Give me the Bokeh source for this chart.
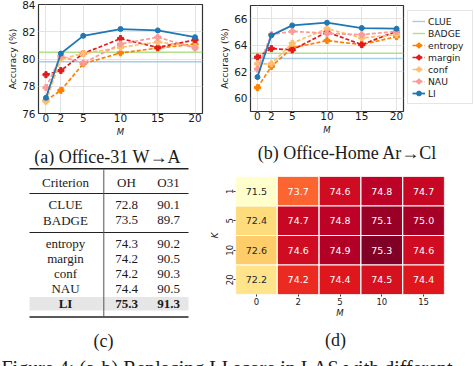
import numpy as np
from bokeh.plotting import figure
from bokeh.layouts import column, row
from bokeh.models import (Range1d, FixedTicker, Legend, LegendItem, LinearColorMapper,
                          ColumnDataSource, FactorRange)
from bokeh.core.properties import value
from bokeh.embed import file_html
from bokeh.resources import INLINE
from bokeh.palettes import YlOrRd9

# ------------------------------------------------------------------ data
M_vals = [0, 2, 5, 10, 15, 20]

# (a) Office-31 W->A
a_clue = 79.8
a_badge = 80.5
a_entropy = [76.95, 77.7, 79.65, 80.45, 80.8, 81.1]
a_margin = [78.85, 79.15, 80.4, 81.5, 80.85, 81.4]
a_conf = [76.9, 80.0, 80.4, 80.85, 81.25, 80.9]
a_nau = [77.9, 80.2, 79.7, 81.1, 81.6, 80.8]
a_li = [77.15, 80.4, 81.7, 82.2, 82.1, 81.6]
a_yticks = [76, 78, 80, 82, 84]

# (b) Office-Home Ar->Cl
b_clue = 63.0
b_badge = 63.4
b_entropy = [60.8, 62.4, 63.8, 64.35, 64.05, 64.65]
b_margin = [63.1, 63.75, 63.65, 65.0, 64.05, 65.05]
b_conf = [62.6, 62.6, 64.15, 65.25, 64.55, 64.8]
b_nau = [62.2, 64.8, 65.05, 64.9, 64.8, 65.05]
b_li = [61.6, 64.75, 65.5, 65.7, 65.3, 65.25]
b_yticks = [60, 62, 64, 66]

legend_names = ["CLUE", "BADGE", "entropy", "margin", "conf", "NAU", "LI"]

# (c) table
criteria = ["CLUE", "BADGE", "entropy", "margin", "conf", "NAU", "LI"]
oh_acc = [72.8, 73.5, 74.3, 74.2, 74.2, 74.4, 75.3]
o31_acc = [90.1, 89.7, 90.2, 90.5, 90.3, 90.5, 91.3]

# (d) heatmap
hm_M = ["0", "2", "5", "10", "15"]
hm_K = ["1", "5", "10", "20"]
hm_acc = [
    [71.5, 73.7, 74.6, 74.8, 74.7],
    [72.4, 74.7, 74.8, 75.1, 75.0],
    [72.6, 74.6, 74.9, 75.3, 74.6],
    [72.2, 74.2, 74.4, 74.5, 74.4],
]

# ------------------------------------------------------------------ style
COLORS = {"CLUE": "#a6cee3", "BADGE": "#b2df8a", "entropy": "#ff7f00", "margin": "#e31a1c",
          "conf": "#fdbf6f", "NAU": "#fb9a99", "LI": "#1f78b4"}
SANS = "DejaVu Sans"
SERIF = "Liberation Serif"
TXT = "#1a1a1a"


def base_fig(width, height, xr, yr, bl=0, br=0, bt=0, bb=0):
    return figure(width=width, height=height, x_range=xr, y_range=yr,
                  output_backend="svg", toolbar_location=None, frame_align=False,
                  min_border_left=bl, min_border_right=br, min_border_top=bt, min_border_bottom=bb)


def blank(width, height, xr, yr, bt=0):
    p = base_fig(width, height, Range1d(*xr), Range1d(*yr), bt=bt)
    p.axis.visible = False
    p.grid.visible = False
    p.outline_line_color = None
    return p


def line_fig(width, height, yr, yticks, bl, br, bt, bb):
    p = base_fig(width, height, Range1d(-1, 21), Range1d(*yr), bl, br, bt, bb)
    p.xaxis.ticker = FixedTicker(ticks=M_vals)
    p.yaxis.ticker = FixedTicker(ticks=yticks)
    for ax in (p.xaxis[0], p.yaxis[0]):
        ax.axis_line_color = None
        ax.major_tick_line_color = None
        ax.minor_tick_line_color = None
        ax.major_tick_out = 0
        ax.major_tick_in = 0
        ax.major_label_text_font = SANS
        ax.major_label_text_font_size = "10.5px"
        ax.major_label_text_color = TXT
        ax.axis_label_text_font = SANS
        ax.axis_label_text_color = TXT
        ax.axis_label_text_font_size = "9.2px"
    p.xaxis.axis_label = "M"
    p.xaxis.axis_label_text_font_style = "italic"
    p.xaxis.axis_label_text_font_size = "8.5px"
    p.xaxis.major_label_standoff = 0
    p.xaxis.axis_label_standoff = 2
    p.yaxis.axis_label = "Accuracy (%)"
    p.yaxis.axis_label_text_font_style = "normal"
    p.yaxis.major_label_standoff = 3
    p.yaxis.axis_label_standoff = 1
    p.grid.grid_line_color = "#e3e3e3"
    p.grid.grid_line_width = 1
    p.outline_line_color = "#333333"
    p.outline_line_width = 1.2
    return p


def draw_series(p, clue, badge, ent, mar, conf, nau, li):
    x0, x1 = p.x_range.start, p.x_range.end
    p.line([x0, x1], [clue, clue], line_color=COLORS["CLUE"], line_width=1.4)
    p.line([x0, x1], [badge, badge], line_color=COLORS["BADGE"], line_width=1.4)
    for name, ys in (("entropy", ent), ("margin", mar), ("conf", conf), ("NAU", nau)):
        p.line(M_vals, ys, line_color=COLORS[name], line_width=1.7, line_dash="4 2")
        p.scatter(M_vals, ys, marker="plus", size=6, color=COLORS[name])
    p.line(M_vals, li, line_color=COLORS["LI"], line_width=1.8)
    p.scatter(M_vals, li, marker="circle", size=5, color=COLORS["LI"])


# ------------------------------------------------------------------ (a)
pa = line_fig(212, 140, (76, 84), a_yticks, 38, 10, 4, 27)
draw_series(pa, a_clue, a_badge, a_entropy, a_margin, a_conf, a_nau, a_li)

# ------------------------------------------------------------------ (b)
pb = line_fig(193, 140, (59, 67), b_yticks, 38, 2, 5, 29)
draw_series(pb, b_clue, b_badge, b_entropy, b_margin, b_conf, b_nau, b_li)

# ------------------------------------------------------------------ legend of (b)
# proxy renderers (kept outside the visible range) that only provide legend swatches
pl = blank(69, 140, (0, 1), (0, 1), bt=8)
px, py = [5, 6], [5, 6]
items = []
for name in legend_names:
    col = COLORS[name]
    if name in ("CLUE", "BADGE"):
        rs = [pl.line(px, py, line_color=col, line_width=1.4)]
    elif name == "LI":
        rs = [pl.line(px, py, line_color=col, line_width=1.8),
              pl.scatter(px, py, marker="circle", size=5, color=col)]
    else:
        rs = [pl.line(px, py, line_color=col, line_width=1.7, line_dash="4 2"),
              pl.scatter(px, py, marker="plus", size=6, color=col)]
    items.append(LegendItem(label=name, renderers=rs))
legend = Legend(items=items, location="top_left")
legend.label_text_font = SANS
legend.label_text_font_size = "9.2px"
legend.label_text_color = TXT
legend.glyph_height = 12
legend.label_height = 12
legend.glyph_width = 13
legend.label_width = 40
legend.spacing = 0
legend.padding = 4
legend.margin = 2
legend.label_standoff = 3
legend.border_line_color = "#cccccc"
legend.border_line_width = 1
pl.add_layout(legend)

# ------------------------------------------------------------------ captions (a)(b)
cap_ab = blank(474, 26, (0, 474), (166, 140))
cap_ab.text(x=[107, 347], y=[156, 152.5],
            text=["(a) Office-31 W\u2192A", "(b) Office-Home Ar\u2192Cl"],
            text_align="center", text_baseline="middle", text_color=TXT,
            text_font=value(SERIF), text_font_size="18px")

# ------------------------------------------------------------------ (c) table
pc = blank(200, 154, (0, 200), (320, 166))
x_lo, x_hi, x_vline = 29, 188, 103.3
col_x = [65, 126, 168]
header_y = 182
row_y = [204, 219.5, 243, 258, 273, 288, 303]
FS = "13px"
pc.quad(left=[x_lo], right=[x_hi], bottom=[310], top=[296.5], fill_color="#e6e6e6", line_color=None)
pc.segment(x0=[x_lo] * 4, x1=[x_hi] * 4, y0=[168.3, 193, 232, 316.5],
           y1=[168.3, 193, 232, 316.5], line_color="#222222", line_width=[1.6, 1.0, 1.0, 1.6])
pc.segment(x0=[x_vline], x1=[x_vline], y0=[169], y1=[316], line_color="#555555", line_width=1.0)
pc.text(x=col_x, y=[header_y] * 3, text=["Criterion", "OH", "O31"],
        text_align="center", text_baseline="middle", text_color=TXT,
        text_font=value(SERIF), text_font_size=FS)
n = len(criteria) - 1
src_c = ColumnDataSource(dict(
    y=row_y[:n], crit=criteria[:n],
    oh=["%.1f" % v for v in oh_acc[:n]], o31=["%.1f" % v for v in o31_acc[:n]]))
for key, cx in zip(["crit", "oh", "o31"], col_x):
    pc.text(x=cx, y="y", text=key, source=src_c, text_align="center", text_baseline="middle",
            text_color=TXT, text_font=value(SERIF), text_font_size=FS)
pc.text(x=col_x, y=[row_y[n]] * 3, text=[criteria[n], "%.1f" % oh_acc[n], "%.1f" % o31_acc[n]],
        text_align="center", text_baseline="middle", text_color=TXT,
        text_font=value(SERIF), text_font_size=FS, text_font_style="bold")

# ------------------------------------------------------------------ (d) heatmap
base = list(YlOrRd9)[::-1]
rgb = np.array([[int(c[i:i + 2], 16) for i in (1, 3, 5)] for c in base], dtype=float)
pal = []
for tv in np.linspace(0, len(base) - 1, 256):
    i = min(int(tv), len(base) - 2)
    f = tv - i
    cc = rgb[i] * (1 - f) + rgb[i + 1] * f
    pal.append("#%02x%02x%02x" % tuple(int(round(v)) for v in cc))
vals = np.array(hm_acc)
mapper = LinearColorMapper(palette=pal, low=float(vals.min()), high=float(vals.max()))
xs, ys, vs, labs, tcs = [], [], [], [], []
for i, k in enumerate(hm_K):
    for j, m in enumerate(hm_M):
        v = hm_acc[i][j]
        xs.append(m); ys.append(k); vs.append(v); labs.append("%.1f" % v)
        tcs.append("#262626" if v < 73.0 else "#ffffff")
src_d = ColumnDataSource(dict(m=xs, k=ys, v=vs, lab=labs, tc=tcs))
pd_ = base_fig(274, 154, FactorRange(factors=hm_M, range_padding=0),
               FactorRange(factors=hm_K[::-1], range_padding=0), 35, 30, 10, 26)
pd_.rect(x="m", y="k", width=1, height=1, source=src_d,
         fill_color={"field": "v", "transform": mapper}, line_color="white", line_width=1.2)
pd_.text(x="m", y="k", text="lab", source=src_d, text_color="tc", text_align="center",
         text_baseline="middle", text_font=value(SANS), text_font_size="9.5px")
pd_.grid.visible = False
pd_.outline_line_color = None
for ax in (pd_.xaxis[0], pd_.yaxis[0]):
    ax.axis_line_color = None
    ax.major_tick_line_color = "#333333"
    ax.major_tick_out = 2
    ax.major_tick_in = 0
    ax.major_label_standoff = 1
    ax.major_label_text_font = SANS
    ax.major_label_text_font_size = "8.5px"
    ax.major_label_text_color = TXT
    ax.axis_label_text_font = SANS
    ax.axis_label_text_font_size = "8.5px"
    ax.axis_label_text_font_style = "italic"
    ax.axis_label_text_color = TXT
    ax.axis_label_standoff = 3
pd_.xaxis.axis_label = "M"
pd_.yaxis.axis_label = "K"
pd_.xaxis.axis_label_standoff = 0
pd_.yaxis.major_label_orientation = "vertical"

# ------------------------------------------------------------------ captions (c)(d) + figure caption
cap_cd = blank(474, 46, (0, 474), (366, 320))
cap_cd.text(x=[103, 335], y=[340.5, 339], text=["(c)", "(d)"],
            text_align="center", text_baseline="middle", text_color=TXT,
            text_font=value(SERIF), text_font_size="18px")
cap_cd.text(x=[1], y=[367.5], text=["Figure 4: (a-b) Replacing LI score in LAS with different"],
            text_align="left", text_baseline="alphabetic", text_color=TXT,
            text_font=value(SERIF), text_font_size="20px")

layout = column(row(pa, pb, pl), cap_ab, row(pc, pd_), cap_cd)
open("out.html", "w").write(file_html(layout, INLINE))
